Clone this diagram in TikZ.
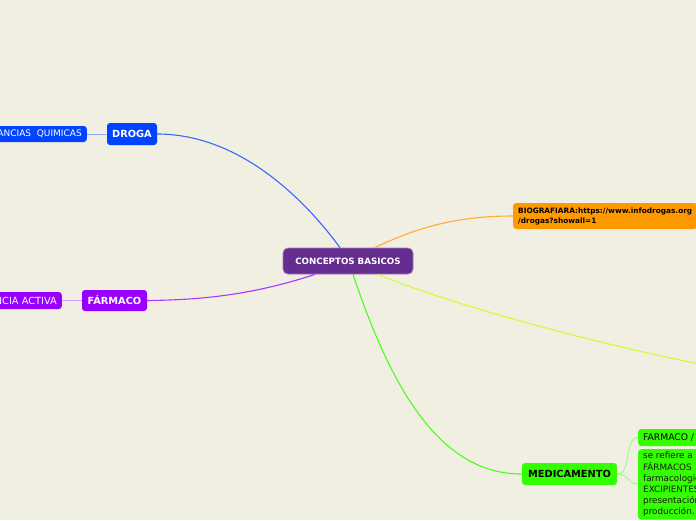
\documentclass[tikz,border=0pt]{standalone}
\usepackage{fontspec}
\setmainfont{DejaVu Sans}
\definecolor{paper}{HTML}{F1EFE2}
\definecolor{rootpurple}{HTML}{662D91}
\definecolor{drogablue}{HTML}{0044FF}
\definecolor{farmviolet}{HTML}{9900FF}
\definecolor{bioorange}{HTML}{FF9900}
\definecolor{medgreen}{HTML}{33FF00}
\definecolor{limeline}{HTML}{CCFF33}
\begin{document}
\begin{tikzpicture}[
    x=1pt,
    y=-1pt,
    box/.style={
        rounded corners=3pt,
        inner ysep=0pt,
        inner xsep=5pt,
        align=left
    },
    root/.style={
        box,
        fill=rootpurple,
        draw=rootpurple!65!white,
        line width=0.8pt,
        rounded corners=5pt,
        text=white,
        minimum width=130,
        minimum height=26,
        font=\fontsize{8.7}{10}\selectfont\bfseries
    },
    topic/.style={
        box,
        text=white,
        minimum height=22,
        font=\fontsize{9.8}{11}\selectfont\bfseries
    },
    leaf/.style={
        box,
        text=white,
        minimum height=16,
        font=\fontsize{9}{10}\selectfont
    },
    link/.style={line width=1.1pt},
    twig/.style={line width=0.9pt}
]

% =====================
% Fondo
% =====================
\useasboundingbox (0,0) rectangle (696,520);
\fill[paper] (0,0) rectangle (696,520);
\clip (0,0) rectangle (696,520);

% =====================
% Nodos
% =====================
\node[root] (root) at (348,261) {CONCEPTOS BASICOS};

\node[topic, fill=drogablue, minimum width=50] (droga) at (132,134) {DROGA};
\node[leaf, fill=drogablue, anchor=east] (quimicas) at (87,134) {SUSTANCIAS\ \ QUIMICAS};

\node[topic, fill=farmviolet, minimum width=65, minimum height=21] (farmaco) at (114.5,300.5) {FÁRMACO};
\node[leaf, fill=farmviolet, anchor=east, minimum height=17,
      font=\fontsize{9.8}{11}\selectfont] (activa) at (62,300.5) {SUSTANCIA ACTIVA};

\node[box, fill=bioorange, anchor=west, minimum height=26,
      font=\fontsize{7.35}{10}\selectfont\bfseries] (bio) at (513,216)
      {BIOGRAFIARA:https://www.infodrogas.org\\/drogas?showall=1};

\node[topic, fill=medgreen, text=black, minimum width=95] (medic) at (569.5,474) {MEDICAMENTO};
\node[leaf, fill=medgreen, text=black, anchor=west, minimum height=17,
      font=\fontsize{9.2}{11}\selectfont] (fmed) at (638,437.5) {FARMACO / MEDICAMENTO};
\node[leaf, fill=medgreen, text=black!90, anchor=north west, inner ysep=3pt,
      font=\fontsize{8.8}{11.2}\selectfont] (refiere) at (638,449)
      {se refiere a los\\FÁRMACOS\\farmacologicos\\EXCIPIENTES\\presentación\\producción.};

\coordinate (lime) at (740,372);

% =====================
% Conectores
% =====================
\draw[link, drogablue!80!white] ([xshift=-8pt]root.north) .. controls (305,200) and (240,134) .. (droga.east);
\draw[link, bioorange!80!white] ([xshift=27pt]root.north) .. controls (420,226) and (460,216) .. (bio.west);
\draw[link, farmviolet!80!white] ([xshift=-33pt]root.south) .. controls (255,294) and (205,300) .. (farmaco.east);
\draw[link, medgreen!90!white] ([xshift=5pt]root.south) .. controls (395,400) and (445,474) .. (medic.west);
\draw[link, limeline] ([xshift=30pt]root.south) .. controls (440,300) and (580,342) .. (lime);

\draw[twig, drogablue!45!white] (droga.west) -- (quimicas.east);
\draw[twig, farmviolet!40!white] (farmaco.west) -- (activa.east);
\draw[twig, medgreen!50!white] (medic.east) .. controls (632,474) and (624,437.5) .. (fmed.west);
\draw[twig, medgreen!50!white] (medic.east) .. controls (630,474) and (626,484) .. ([yshift=-35pt]refiere.north west);

\end{tikzpicture}
\end{document}
